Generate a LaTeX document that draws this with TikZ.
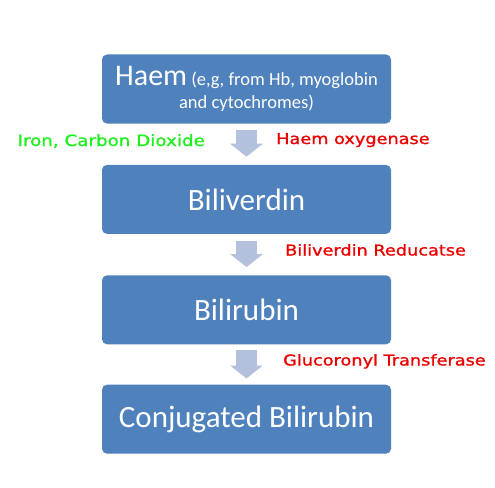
\documentclass[tikz,border=0pt]{standalone}
\usepackage{fontspec}
\usepackage{tikz}
\usetikzlibrary{arrows.meta, calc, positioning}
\setmainfont{Carlito}
\newfontfamily\lblfont{DejaVu Sans}[FakeStretch=1.18, FakeBold=1.2]
\definecolor{boxblue}{RGB}{79,129,189}
\definecolor{arrblue}{RGB}{179,193,220}
\definecolor{lblred}{RGB}{235,0,0}
\definecolor{lblgreen}{RGB}{30,240,30}
\def\bx{\fontsize{31}{36}\selectfont}

\begin{document}
\begin{tikzpicture}[x=1pt, y=1pt,
    stage/.style={rectangle, rounded corners=5pt, fill=boxblue, text=white, minimum width=289pt, minimum height=69pt, inner sep=0pt, align=center},
    flow/.style={arrblue, line width=21pt, -{Triangle[width=32pt, length=13pt]}},
    enzyme/.style={lblred, font=\lblfont\fontsize{15}{18}\selectfont, inner sep=0pt}]
\useasboundingbox (0,0) rectangle (495,-487);

\node[stage, font=\fontsize{18.5}{23}\selectfont] (haem) at (246.5,-89) {{\fontsize{30}{30}\selectfont Haem} (e,g, from Hb, myoglobin\\and cytochromes)};
\node[stage, below=41pt of haem] (bv) {\bx Biliverdin};
\node[stage, below=41pt of bv] (br) {\bx Bilirubin};
\node[stage, below=40pt of br] (cbr) {\bx Conjugated Bilirubin};

\draw[flow] ($(haem.south)+(0,-6)$) -- ($(bv.north)+(0,8)$);
\draw[flow] ($(bv.south)+(0,-7)$) -- ($(br.north)+(0,8)$);
\draw[flow] ($(br.south)+(0,-5)$) -- ($(cbr.north)+(0,6)$);

\node[enzyme, lblgreen, anchor=base east, font=\lblfont\fontsize{15.5}{18}\selectfont] (iron) at (205,-146) {Iron, Carbon Dioxide};
\node[enzyme, anchor=base west] (hox) at (276,-144) {Haem oxygenase};
\node[enzyme, anchor=base west] (bvr) at (285,-255.5) {Biliverdin Reducatse};
\node[enzyme, anchor=base west] (ugt) at (283,-365.5) {Glucoronyl Transferase};
\end{tikzpicture}
\end{document}
